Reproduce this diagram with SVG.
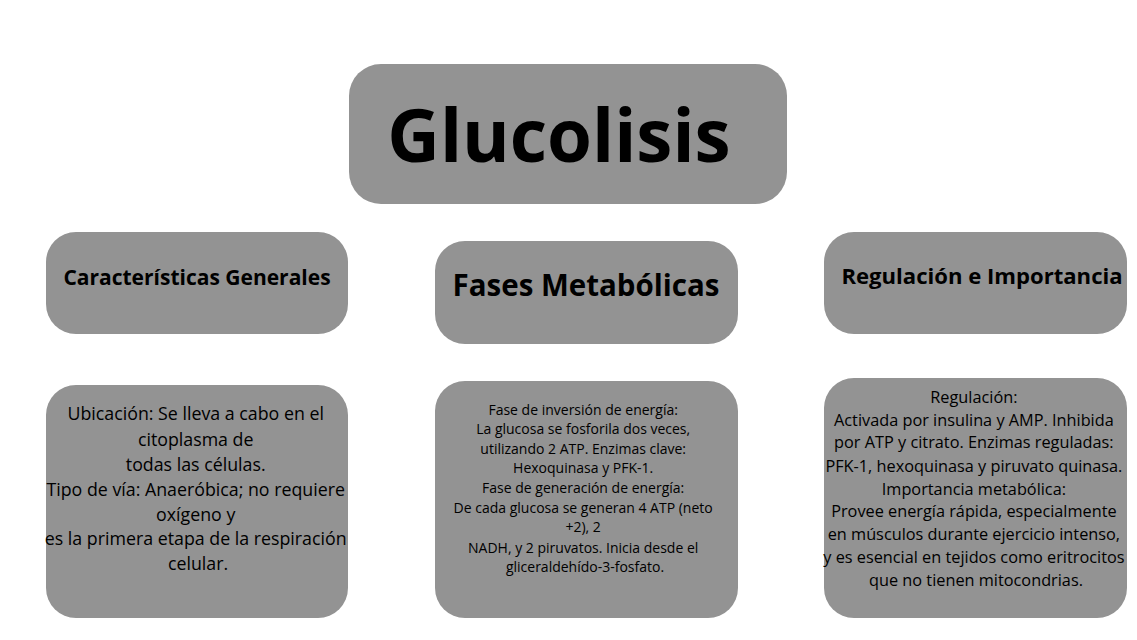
<svg xmlns="http://www.w3.org/2000/svg" width="1137" height="640" viewBox="0 0 1137 640">
<style>
.box{fill:#939393;}
text{font-family:"Open Sans","Noto Sans","Liberation Sans",sans-serif;fill:#000;text-anchor:middle;}
.h{font-weight:bold;}
.b1{font-size:17.8px;}
.b2{font-size:14px;}
.b3{font-size:16.3px;}
</style>
<rect width="1137" height="640" fill="#ffffff"/>
<g id="connectors"></g>
<g id="title">
<rect class="box" x="349" y="64" width="438" height="140" rx="32"/>
<text class="h" x="559" y="162" font-size="72.6">Glucolisis</text>
</g>
<g id="caracteristicas">
<rect class="box" x="46" y="232" width="302" height="102" rx="30"/>
<text class="h" x="197" y="285" font-size="21">Características Generales</text>
</g>
<g id="fases">
<rect class="box" x="435" y="241" width="303" height="103" rx="30"/>
<text class="h" x="586" y="296" font-size="29.5">Fases Metabólicas</text>
</g>
<g id="regulacion">
<rect class="box" x="824" y="232" width="303" height="102" rx="30"/>
<text class="h" x="982" y="284" font-size="22.1">Regulación e Importancia</text>
</g>
<g id="caracteristicas-detalle">
<rect class="box" x="46" y="385" width="302" height="233" rx="30"/>
<text class="b1" x="198">
<tspan x="198" y="420">Ubicación: Se lleva a cabo en el</tspan>
<tspan x="198" y="446">citoplasma de</tspan>
<tspan x="198" y="471">todas las células.</tspan>
<tspan x="198" y="496">Tipo de vía: Anaeróbica; no requiere</tspan>
<tspan x="198" y="521">oxígeno y</tspan>
<tspan x="198" y="545">es la primera etapa de la respiración</tspan>
<tspan x="198" y="570">celular.</tspan>
</text>
</g>
<g id="fases-detalle">
<rect class="box" x="435" y="381" width="303" height="237" rx="30"/>
<text class="b2" x="585">
<tspan x="585" y="415">Fase de inversión de energía:</tspan>
<tspan x="585" y="434">La glucosa se fosforila dos veces,</tspan>
<tspan x="585" y="454">utilizando 2 ATP. Enzimas clave:</tspan>
<tspan x="585" y="473">Hexoquinasa y PFK-1.</tspan>
<tspan x="585" y="493">Fase de generación de energía:</tspan>
<tspan x="585" y="513">De cada glucosa se generan 4 ATP (neto</tspan>
<tspan x="585" y="532">+2), 2</tspan>
<tspan x="585" y="553">NADH, y 2 piruvatos. Inicia desde el</tspan>
<tspan x="585" y="572">gliceraldehído-3-fosfato.</tspan>
</text>
</g>
<g id="regulacion-detalle">
<rect class="box" x="824" y="378" width="303" height="240" rx="30"/>
<text class="b3" x="976">
<tspan x="976" y="403">Regulación:</tspan>
<tspan x="976" y="426">Activada por insulina y AMP. Inhibida</tspan>
<tspan x="976" y="448">por ATP y citrato. Enzimas reguladas:</tspan>
<tspan x="976" y="472">PFK-1, hexoquinasa y piruvato quinasa.</tspan>
<tspan x="976" y="495">Importancia metabólica:</tspan>
<tspan x="976" y="517">Provee energía rápida, especialmente</tspan>
<tspan x="976" y="540">en músculos durante ejercicio intenso,</tspan>
<tspan x="976" y="563">y es esencial en tejidos como eritrocitos</tspan>
<tspan x="976" y="586">que no tienen mitocondrias.</tspan>
</text>
</g>
</svg>
